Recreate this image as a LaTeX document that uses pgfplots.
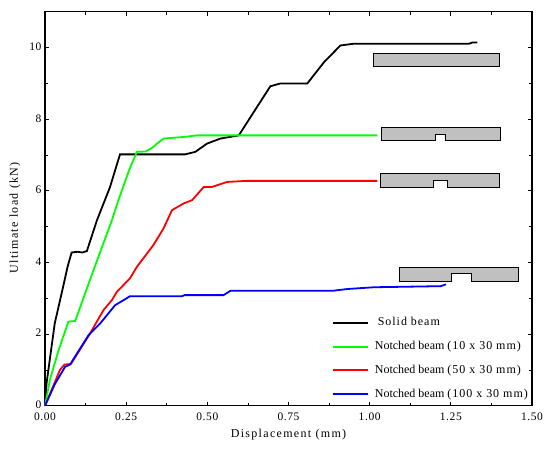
\documentclass[border=0pt]{standalone}
\usepackage{fontspec}
\setmainfont{Liberation Serif}
\newfontfamily\tickfont{Liberation Serif}[LetterSpace=5]
\newfontfamily\labfont{Liberation Serif}[LetterSpace=11]
\newfontfamily\lsfont{Liberation Serif}[LetterSpace=8]
\usepackage{pgfplots}
\pgfplotsset{compat=1.18}
\definecolor{beamgray}{RGB}{192,192,192}
\definecolor{lgreen}{RGB}{0,255,0}
\begin{document}
\begin{tikzpicture}
\path[use as bounding box] (-45bp,-45.2bp) rectangle (505bp,405.8bp);
\begin{axis}[
  scale only axis,
  width=487bp, height=394bp,
  xmin=0, xmax=1.5, ymin=0, ymax=11,
  xtick={0,0.25,0.5,0.75,1,1.25,1.5},
  xticklabels={0.00,0.25,0.50,0.75,1.00,1.25,1.50},
  minor x tick num=1,
  ytick={0,2,4,6,8,10},
  minor y tick num=1,
  tick align=inside,
  major tick length=4bp, minor tick length=3bp,
  every tick/.style={black, line width=0.8pt},
  axis line style={line width=1.1pt},
  /pgf/number format/assume math mode=true,
  tick label style={font=\tickfont\fontsize{11.5bp}{13bp}\selectfont},
  xticklabel style={yshift=-4bp},
  yticklabel style={yshift=1bp},
  xlabel={Displacement (mm)},
  ylabel={Ultimate load (kN)},
  label style={font=\labfont\fontsize{12bp}{14bp}\selectfont},
  xlabel style={at={(axis description cs:0.5,0)}, anchor=north, yshift=-20bp},
  ylabel style={at={(axis description cs:0,0.477)}, anchor=south, yshift=21bp},
  clip=false,
  legend cell align=left,
  legend style={draw=none, fill=none, inner sep=0pt,
    at={(axis description cs:0.589,0.226)}, anchor=north west,
    font=\fontsize{12bp}{14bp}\selectfont,
    nodes={inner sep=0pt, text height=9bp, text depth=3bp},
    row sep=11.7bp, column sep=6bp},
  legend image code/.code={\draw[#1, line width=1.8pt] (0bp,0bp) -- (35bp,0bp);},
]
\addplot[black, line width=1.8pt] coordinates {
(0,0) (0.005,0.64) (0.03,2.3) (0.057,3.37) (0.07,3.9) (0.082,4.28) (0.1,4.3) (0.115,4.28) (0.129,4.32)
(0.16,5.18) (0.2,6.1) (0.231,7.02) (0.3,7.02) (0.432,7.02) (0.463,7.09) (0.499,7.32) (0.54,7.46)
(0.597,7.55) (0.65,8.3) (0.694,8.92) (0.725,9.0) (0.808,9.0) (0.86,9.6) (0.91,10.06) (0.952,10.11)
(1.307,10.11) (1.315,10.14) (1.332,10.14)};
\addlegendentry{\hspace{3bp}{\lsfont Solid beam}}
\addplot[lgreen, line width=1.8pt] coordinates {
(0,0) (0.015,0.72) (0.04,1.5) (0.072,2.35) (0.093,2.37) (0.15,3.8) (0.206,5.18) (0.226,5.74)
(0.26,6.6) (0.283,7.09) (0.31,7.1) (0.33,7.2) (0.345,7.32) (0.365,7.46) (0.432,7.51) (0.468,7.55) (1.024,7.55)};
\addlegendentry{Notched beam {\lsfont (10 x 30 mm)}}
\addplot[red, line width=1.8pt] coordinates {
(0,0) (0.046,1.0) (0.06,1.15) (0.08,1.17) (0.139,2.02) (0.18,2.67) (0.206,2.95) (0.221,3.18)
(0.262,3.56) (0.283,3.88) (0.334,4.49) (0.365,4.95) (0.391,5.46) (0.427,5.65) (0.453,5.74)
(0.489,6.11) (0.514,6.11) (0.561,6.25) (0.622,6.28) (1.024,6.28)};
\addlegendentry{Notched beam {\lsfont (50 x 30 mm)}}
\addplot[blue, line width=1.8pt] coordinates {
(0,0) (0.03,0.6) (0.062,1.09) (0.077,1.15) (0.134,1.97) (0.17,2.3) (0.216,2.81) (0.242,2.95)
(0.262,3.06) (0.422,3.06) (0.43,3.09) (0.55,3.09) (0.571,3.21) (0.885,3.21) (0.931,3.26)
(1.013,3.31) (1.219,3.34) (1.235,3.39)};
\addlegendentry{Notched beam {\lsfont (100 x 30 mm)}}
% beam sketches
\addplot[draw=black, fill=beamgray, line width=0.8pt, forget plot] coordinates {
(1.010,9.48) (1.399,9.48) (1.399,9.85) (1.010,9.85)} -- cycle;
\addplot[draw=black, fill=beamgray, line width=0.8pt, forget plot] coordinates {
(1.037,7.41) (1.201,7.41) (1.201,7.57) (1.232,7.57) (1.232,7.41) (1.404,7.41) (1.404,7.78) (1.037,7.78)} -- cycle;
\addplot[draw=black, fill=beamgray, line width=0.8pt, forget plot] coordinates {
(1.034,6.11) (1.197,6.11) (1.197,6.28) (1.240,6.28) (1.240,6.11) (1.401,6.11) (1.401,6.49) (1.034,6.49)} -- cycle;
\addplot[draw=black, fill=beamgray, line width=0.8pt, forget plot] coordinates {
(1.091,3.48) (1.252,3.48) (1.252,3.70) (1.314,3.70) (1.314,3.48) (1.459,3.48) (1.459,3.86) (1.091,3.86)} -- cycle;
\end{axis}
\end{tikzpicture}
\end{document}
